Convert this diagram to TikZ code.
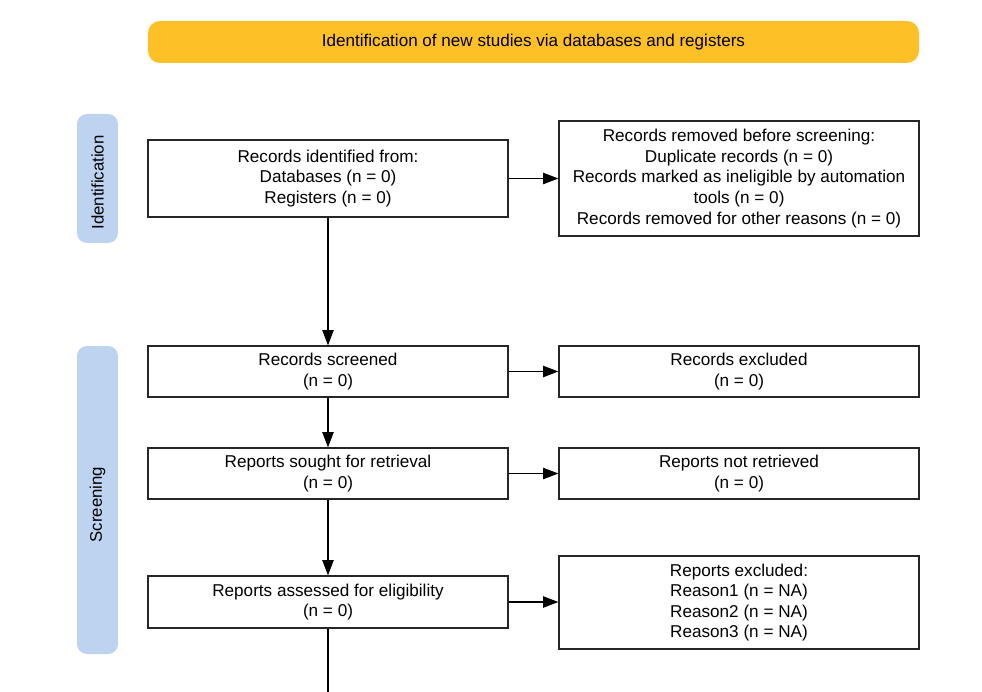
\documentclass[tikz,border=0pt]{standalone}
\usepackage{fontspec}
\setmainfont{Liberation Sans}
\usetikzlibrary{arrows.meta}
\definecolor{bannercol}{RGB}{254,192,39}
\definecolor{sidecol}{RGB}{190,211,239}
\tikzset{
  box/.style={draw=black!85, line width=0.9pt, fill=white, minimum width=270pt, inner sep=0pt, align=center, font=\fontsize{12.85pt}{15.4pt}\selectfont},
  side/.style={fill=sidecol, rounded corners=7.5pt, minimum width=30.75pt, inner sep=0pt},
  sidetext/.style={rotate=90, inner sep=0pt, font=\fontsize{12.6pt}{15pt}\selectfont},
  arr/.style={line width=0.9pt, -{Triangle[length=11.5pt,width=8.5pt]}},
  ln/.style={line width=0.9pt}
}
\begin{document}
\begin{tikzpicture}[x=0.75pt,y=-0.75pt]
\useasboundingbox (0,0) rectangle (982,692);
\node[fill=bannercol, rounded corners=9pt, minimum width=578.25pt, minimum height=31.5pt, inner sep=0pt, font=\fontsize{12.8pt}{14pt}\selectfont] (banner) at (533.5,42) {Identification of new studies via databases and registers};
\node[side, minimum height=96.75pt] (sid) at (97.5,178.5) {};
\node[sidetext] (sidl) at (97.5,182.5) {Identification};
\node[side, minimum height=231pt] (ssc) at (97.5,500) {};
\node[sidetext] (sscl) at (97.5,504.5) {Screening};
\node[box, minimum height=57.75pt] (b1) at (328,178.5) {Records identified from:\\Databases (n = 0)\\Registers (n = 0)};
\node[box, minimum height=86.25pt] (b2) at (739,178.5) {Records removed before screening:\\Duplicate records (n = 0)\\Records marked as ineligible by automation\\tools (n = 0)\\Records removed for other reasons (n = 0)};
\node[box, minimum height=38.25pt] (b3) at (328,371.5) {Records screened\\(n = 0)};
\node[box, minimum height=38.25pt] (b4) at (739,371.5) {Records excluded\\(n = 0)};
\node[box, minimum height=38.25pt] (b5) at (328,473.5) {Reports sought for retrieval\\(n = 0)};
\node[box, minimum height=38.25pt] (b6) at (739,473.5) {Reports not retrieved\\(n = 0)};
\node[box, minimum height=39pt] (b7) at (328,602) {Reports assessed for eligibility\\(n = 0)};
\node[box, minimum height=69.75pt] (b8) at (739,602.5) {Reports excluded:\\Reason1 (n = NA)\\Reason2 (n = NA)\\Reason3 (n = NA)};
\coordinate (end) at (328,692);
\draw[arr] (b1) -- (b3);
\draw[arr] (b3) -- (b5);
\draw[arr] (b5) -- (b7);
\draw[ln] (b7) -- (end);
\draw[arr] (b1.east) -- (b2.west |- b1.east);
\draw[arr] (b3) -- (b4);
\draw[arr] (b5) -- (b6);
\draw[arr] (b7.east) -- (b8.west |- b7.east);
\end{tikzpicture}
\end{document}
